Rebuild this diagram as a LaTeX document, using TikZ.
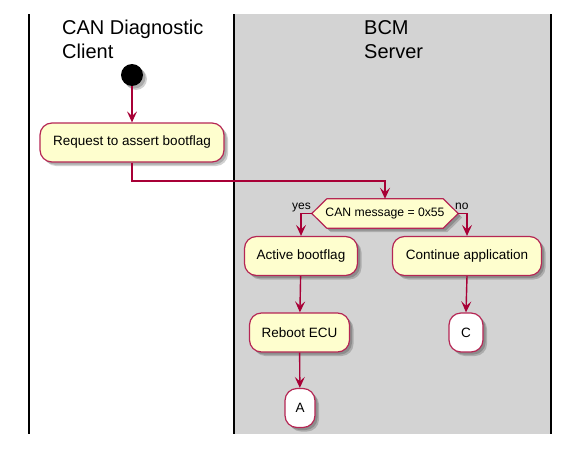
\documentclass[tikz,border=0pt]{standalone}
\usepackage{fontspec}
\setmainfont{Liberation Sans}
\usetikzlibrary{arrows.meta,shadows,calc}
\definecolor{pumlred}{HTML}{A80036}
\definecolor{pumlfill}{HTML}{FEFECE}
\definecolor{lanegrey}{HTML}{D3D3D3}
\tikzset{
  lshadow/.style={drop shadow={shadow xshift=4pt,shadow yshift=-4pt,opacity=0.18,fill=black},
                  drop shadow={shadow xshift=2.5pt,shadow yshift=-2.5pt,opacity=0.18,fill=black}},
  actbox/.style={draw=pumlred!85,line width=1.2pt,fill=pumlfill,rounded corners=12pt,
    minimum height=39pt,inner xsep=11pt,font=\fontsize{13.5}{15}\selectfont,lshadow},
  connbox/.style={actbox,fill=white,inner xsep=0pt,minimum width=34pt},
  flow/.style={draw=pumlred,line width=1.4pt,-{Stealth[length=11pt,width=10pt,inset=4.5pt]}},
  lane/.style={line width=1.6pt,black},
  title/.style={font=\fontsize{20}{24}\selectfont,align=left,anchor=north west,inner sep=0pt},
  lbl/.style={font=\fontsize{12}{14}\selectfont,inner sep=0pt}
}
\begin{document}
\begin{tikzpicture}[x=1pt,y=-1pt]
\useasboundingbox (0,0) rectangle (570,455);
% lanes
\fill[lanegrey] (234,14) rectangle (551,434);
\draw[lane] (29,14) -- (29,434);
\draw[lane] (234,14) -- (234,434);
\draw[lane] (551,14) -- (551,434);
\node[title] (t1) at (62,20) {CAN Diagnostic\\Client};
\node[title] (t2) at (364,20) {BCM\\Server};
% start
\node[circle,fill=black,minimum size=22pt,inner sep=0pt,lshadow] (start) at (132,75) {};
\node[actbox,minimum width=184pt] (req) at (132,142.5) {Request to assert bootflag};
% decision
\node[minimum width=146pt,minimum height=29pt,inner sep=0pt] (d) at (385,213.5) {};
\path[draw=pumlred!85,line width=1.2pt,fill=pumlfill,lshadow]
  (d.west) -- ([xshift=15pt]d.north west) -- ([xshift=-15pt]d.north east) -- (d.east)
  -- ([xshift=-15pt]d.south east) -- ([xshift=15pt]d.south west) -- cycle;
\node[font=\fontsize{12.2}{14}\selectfont,inner sep=0pt] (dt) at (d.center) {CAN message = 0x55};
\node[actbox,minimum width=113pt] (act) at (301,256) {Active bootflag};
\node[actbox,minimum width=149pt] (cont) at (467,256) {Continue application};
\node[actbox,minimum width=100pt] (reb) at (299.5,332.5) {Reboot ECU};
\node[connbox] (c) at (466,332.5) {C};
\node[connbox,minimum width=30pt] (a) at (300,408) {A};
% labels
\node[lbl,anchor=base east] (yes) at (311,209) {yes};
\node[lbl,anchor=base west] (no) at (455,209) {no};
% connectors
\draw[flow] (start) -- (req);
\coordinate (turn) at (132,181);
\draw[flow] (req.south) -- (turn) -| (d.north);
\draw[flow] (d.west) -| (act.north);
\draw[flow] (d.east) -| (cont.north);
\draw[flow] (act) -- (reb);
\draw[flow] (reb) -- (a);
\draw[flow] (cont.south) -- (c.north);
\end{tikzpicture}
\end{document}
